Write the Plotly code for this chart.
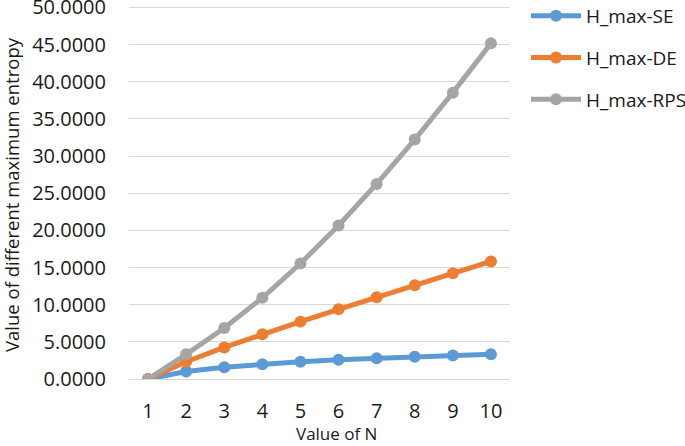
import plotly.graph_objects as go

N = [1, 2, 3, 4, 5, 6, 7, 8, 9, 10]
h_se = [0.0, 1.0, 1.585, 2.0, 2.3219, 2.585, 2.8074, 3.0, 3.1699, 3.3219]
h_de = [0.0, 2.3219, 4.248, 6.022, 7.721, 9.377, 11.008, 12.622, 14.226, 15.824]
h_rps = [0.0, 3.32, 6.87, 10.93, 15.54, 20.67, 26.25, 32.22, 38.54, 45.17]

names = ["H_max-SE", "H_max-DE", "H_max-RPS"]
colors = ["#5B9BD5", "#ED7D31", "#A5A5A5"]
series = [h_se, h_de, h_rps]
y_ticks = [0, 5, 10, 15, 20, 25, 30, 35, 40, 45, 50]

FONT = "Open Sans"

fig = go.Figure()
for name, col, vals in zip(names, colors, series):
    fig.add_trace(go.Scatter(
        x=[str(n) for n in N], y=vals, name=name, mode="lines+markers",
        line=dict(color=col, width=5),
        marker=dict(color=col, size=12),
        legendgroup=name,
    ))

W, H = 685, 446
L, R, T, B = 129, 175, 6, 67
PW, PH = W - L - R, H - T - B

fig.update_layout(
    width=W, height=H,
    margin=dict(l=L, r=R, t=T, b=B, autoexpand=False),
    paper_bgcolor="white", plot_bgcolor="white",
    font=dict(family=FONT, size=20, color="#1a1a1a"),
    showlegend=True,
    legend=dict(x=(526 - L) / PW, y=1 + 9 / PH, xanchor="left", yanchor="top",
                font=dict(size=19, family=FONT), tracegroupgap=14,
                itemwidth=50, bgcolor="rgba(0,0,0,0)"),
    xaxis=dict(type="category", range=[-0.5, 9.5], showgrid=False,
               showline=False, ticks="", tickfont=dict(size=20),
               ticklabelstandoff=18),
    yaxis=dict(range=[0, 50.2], tickvals=y_ticks, tickformat=".4f",
               showgrid=True, gridcolor="#D9D9D9", gridwidth=1,
               zeroline=True, zerolinecolor="#D9D9D9", zerolinewidth=1,
               showline=False, ticks="", tickfont=dict(size=20),
               ticklabelstandoff=22, ticklabeloverflow="allow"),
    shapes=[dict(type="line", xref="paper", x0=0, x1=1, yref="y",
                 y0=y_ticks[-1], y1=y_ticks[-1], layer="below",
                 line=dict(color="#D9D9D9", width=1))],
    annotations=[
        dict(text="Value of N", xref="paper", yref="paper",
             x=(336 - L) / PW, y=-(434 - (H - B)) / PH,
             xanchor="center", yanchor="middle", showarrow=False,
             font=dict(size=17, family=FONT)),
        dict(text="Value of different maximum entropy", xref="paper", yref="paper",
             x=-(L - 11) / PW, y=(H - B - 195) / PH, textangle=-90,
             xanchor="center", yanchor="middle", showarrow=False,
             font=dict(size=18.5, family=FONT)),
    ],
)

fig.write_html("out.html", config={"displayModeBar": False},
               post_script="document.body.style.margin='0';document.body.style.overflow='hidden';")
